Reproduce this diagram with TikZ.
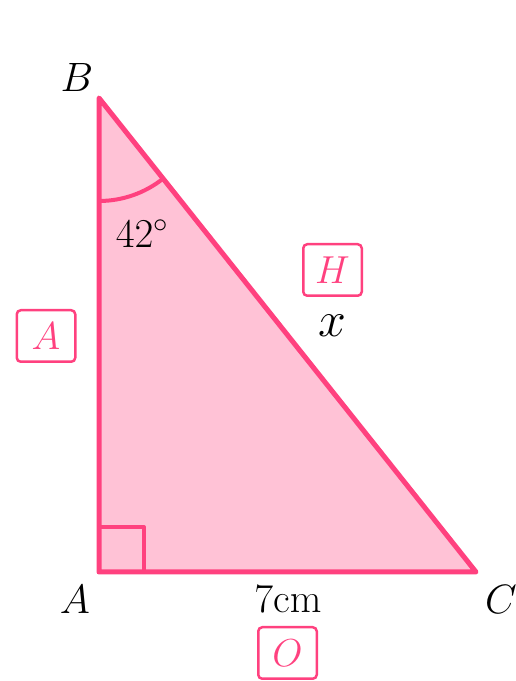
\RequirePackage{fix-cm}
\documentclass[tikz,border=0pt]{standalone}
\usetikzlibrary{positioning}
\definecolor{rim}{RGB}{255,65,127}
\definecolor{flesh}{RGB}{255,194,214}
\begin{document}
\begin{tikzpicture}[x=1pt, y=1pt, line join=round,
	lbl/.style={font=\fontsize{41}{45}\selectfont, inner sep=0pt},
	tag/.style={draw=rim, text=rim, line width=2.5pt, rounded corners=4pt, minimum width=58.5pt, minimum height=51.5pt, inner sep=0pt, font=\fontsize{39}{43}\selectfont}]
		\useasboundingbox (0,0) rectangle (515,681);
		\coordinate (A) at (99,109);
		\coordinate (B) at (99,583);
		\coordinate (C) at (476,109);
		\filldraw[fill=flesh, draw=rim, line width=5pt] (A) -- (B) -- (C) -- cycle;
		\draw[rim, line width=4pt] (A) ++(0,45) -- ++(45,0) -- ++(0,-45);
		\draw[rim, line width=4pt] (B) ++(270:103) arc (270:308.5:103);
		\node[lbl] (labB) at (77,604) {$B$};
		\node[lbl] (labA) at (75,82) {$A$};
		\node[lbl] (labC) at (501,82) {$C$};
		\node[lbl] (side) at (288,82) {$7\mathrm{cm}$};
		\node[lbl] (ang) at (142,447) {$42^\circ$};
		\node[lbl, font=\fontsize{50}{56}\selectfont] (hyp) at (332,355) {$x$};
		\node[tag] (tagA) at (46,345) {$A$};
		\node[tag] (tagH) at (332.5,411) {$H$};
		\node[tag] (tagO) at (287.5,28) {$O$};
\end{tikzpicture}
\end{document}
